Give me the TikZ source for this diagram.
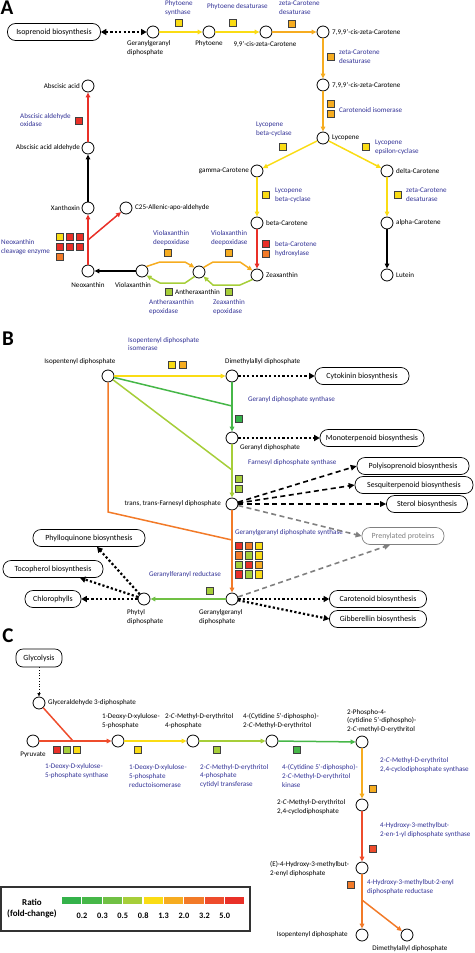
\documentclass[tikz,border=0pt]{standalone}
\usepackage{fontspec}
\setmainfont{Carlito}
\usetikzlibrary{arrows.meta}

\definecolor{cA}{RGB}{52,178,74}
\definecolor{cB}{RGB}{70,183,72}
\definecolor{cC}{RGB}{112,192,68}
\definecolor{cD}{RGB}{166,206,57}
\definecolor{cE}{RGB}{250,220,20}
\definecolor{cF}{RGB}{246,172,32}
\definecolor{cG}{RGB}{242,122,40}
\definecolor{cH}{RGB}{238,76,44}
\definecolor{cI}{RGB}{233,48,40}
\definecolor{enzblue}{RGB}{50,50,150}

\begin{document}
\begin{tikzpicture}[x=1pt,y=-1pt,
  met/.style={circle,draw,line width=0.8pt,fill=white,minimum size=12pt,inner sep=0pt},
  txt/.style={font=\fontsize{7.1}{8.8}\selectfont,inner sep=0pt,align=left},
  enz/.style={txt,text=enzblue},
  sq/.style={draw=black!75,line width=0.6pt,fill=#1,minimum size=7.5pt,inner sep=0pt},
  pbox/.style={draw,line width=0.7pt,rounded corners=8pt,minimum height=17pt,font=\fontsize{7.9}{9}\selectfont,inner sep=0pt},
  rx/.style={line width=1.5pt,draw=#1,-{Triangle[length=5pt,width=4.5pt]}},
  rl/.style={line width=1.5pt,draw=#1},
  dotarr/.style={line width=2.2pt,dash pattern=on 2.2pt off 2.2pt,-{Triangle[length=5.5pt,width=6pt]}},
  dasharr/.style={line width=1.6pt,dash pattern=on 5pt off 3.5pt,-{Triangle[length=6pt,width=5.5pt]}},
  letter/.style={font=\fontsize{21}{21}\selectfont\bfseries,inner sep=0pt}]
\useasboundingbox (0,0) rectangle (474,953);

%%% A : carotenoids
\node[letter] (lA) at (7,8) {A};
\node[pbox,minimum width=93pt] (isop) at (54,32) {Isoprenoid biosynthesis};
\node[met] (ggpp) at (153,32) {};
\node[met] (phy) at (209,32) {};
\node[met] (zc1) at (266,32) {};
\node[met] (zc2) at (323,32) {};
\node[met] (zc3) at (323,85) {};
\node[met] (lyc) at (323,138) {};
\node[met] (gam) at (257,171) {};
\node[met] (del) at (387,171) {};
\node[met] (bet) at (257,223) {};
\node[met] (alp) at (387,223) {};
\node[met] (zea) at (257,275) {};
\node[met] (lut) at (387,275) {};
\node[met] (ant) at (199,272) {};
\node[met] (vio) at (142,271) {};
\node[met] (neo) at (88,271) {};
\node[met] (xan) at (88,208) {};
\node[met] (c25) at (126,208) {};
\node[met] (aal) at (88,148) {};
\node[met] (aba) at (88,86) {};
\coordinate (nb) at (88,240);

\node[txt,anchor=west] (tggpp) at (127,48.5) {Geranylgeranyl\\diphosphate};
\node[txt] (tphy) at (209,44) {Phytoene};
\node[txt] (tzc1) at (265,44) {9,9'-cis-zeta-Carotene};
\node[txt,anchor=west] (tzc2) at (332,32) {7,9,9'-cis-zeta-Carotene};
\node[txt,anchor=west] (tzc3) at (332,85) {7,9,9'-cis-zeta-Carotene};
\node[txt,anchor=west] (tlyc) at (332,138) {Lycopene};
\node[txt,anchor=east] (tgam) at (249,171) {gamma-Carotene};
\node[txt,anchor=west] (tdel) at (396,171) {delta-Carotene};
\node[txt,anchor=west] (tbet) at (266,223) {beta-Carotene};
\node[txt,anchor=west] (talp) at (396,223) {alpha-Carotene};
\node[txt,anchor=west] (tzea) at (266,275) {Zeaxanthin};
\node[txt,anchor=west] (tlut) at (396,275) {Lutein};
\node[txt,anchor=west] (tant) at (175,292) {Antheraxanthin};
\node[txt] (tvio) at (133,285) {Violaxanthin};
\node[txt] (tneo) at (88,285) {Neoxanthin};
\node[txt,anchor=east] (txan) at (80,208) {Xanthoxin};
\node[txt,anchor=west] (tc25) at (135,208) {C25-Allenic-apo-aldehyde};
\node[txt,anchor=east] (taal) at (80,148) {Abscisic acid aldehyde};
\node[txt,anchor=east] (taba) at (80,86) {Abscisic acid};

\node[enz,anchor=west] (e1) at (165,8) {Phytoene\\synthase};
\node[enz,anchor=west] (e2) at (207,7) {Phytoene desaturase};
\node[enz,anchor=west] (e3) at (279,8) {zeta-Carotene\\desaturase};
\node[enz,anchor=west] (e4) at (339,57) {zeta-Carotene\\desaturase};
\node[enz,anchor=west] (e5) at (339,110) {Carotenoid isomerase};
\node[enz,anchor=west] (e6) at (256,129) {Lycopene\\beta-cyclase};
\node[enz,anchor=west] (e7) at (375,147) {Lycopene\\epsilon-cyclase};
\node[enz,anchor=west] (e8) at (275,195) {Lycopene\\beta-cyclase};
\node[enz,anchor=west] (e9) at (406,195) {zeta-Carotene\\desaturase};
\node[enz,anchor=west] (e10) at (275,249) {beta-Carotene\\hydroxylase};
\node[enz,anchor=west] (e11) at (153,238) {Violaxanthin\\deepoxidase};
\node[enz,anchor=west] (e12) at (211,238) {Violaxanthin\\deepoxidase};
\node[enz,anchor=west] (e13) at (149,307) {Antheraxanthin\\epoxidase};
\node[enz,anchor=west] (e14) at (213,307) {Zeaxanthin\\epoxidase};
\node[enz,anchor=west] (e15) at (20,120) {Abscisic aldehyde\\oxidase};
\node[enz,anchor=west] (e16) at (1,247) {Neoxanthin\\cleavage enzyme};

\node[sq=cE] (sa1) at (179,23) {};
\node[sq=cE] (sa2) at (233,23) {};
\node[sq=cF] (sa3) at (292,24) {};
\node[sq=cF] (sa4) at (331,57) {};
\node[sq=cF] (sa5) at (331,104) {};
\node[sq=cF] (sa6) at (331,114) {};
\node[sq=cE] (sa7) at (283,147) {};
\node[sq=cE] (sa8) at (366,147) {};
\node[sq=cE] (sa9) at (266,195) {};
\node[sq=cE] (sa10) at (398,195) {};
\node[sq=cI] (sa11) at (266,244) {};
\node[sq=cG] (sa12) at (266,254) {};
\node[sq=cF] (sa13) at (168,253) {};
\node[sq=cF] (sa14) at (229,253) {};
\node[sq=cD] (sa15) at (169,292) {};
\node[sq=cD] (sa16) at (229,292) {};
\node[sq=cI] (sa17) at (79,121) {};
\node[sq=cE] (sn1) at (60,237) {};
\node[sq=cI] (sn2) at (70,237) {};
\node[sq=cI] (sn3) at (80,237) {};
\node[sq=cI] (sn4) at (60,247) {};
\node[sq=cI] (sn5) at (70,247) {};
\node[sq=cI] (sn6) at (80,247) {};
\node[sq=cG] (sn7) at (60,257) {};

\draw[dotarr,{Triangle[length=5.5pt,width=6pt]}-{Triangle[length=5.5pt,width=6pt]}] (isop) -- (ggpp);
\draw[rx=cE] (ggpp) -- (phy);
\draw[rx=cE] (phy) -- (zc1);
\draw[rx=cF] (zc1) -- (zc2);
\draw[rx=cF] (zc2) -- (zc3);
\draw[rx=cF] (zc3) -- (lyc);
\draw[rx=cE] (lyc) -- (gam);
\draw[rx=cE] (lyc) -- (del);
\draw[rx=cE] (gam) -- (bet);
\draw[rx=cE] (del) -- (alp);
\draw[rx=cI] (bet) -- (zea);
\draw[rx=black] (alp) -- (lut);
% xanthophyll cycle
\draw[rx=cF] (vio.north east) -- (160,262) -- (185,262) -- (ant.north west);
\draw[rx=cF] (ant.north east) -- (213,262) -- (240,262) -- (zea.north west);
\draw[rx=cD] (zea.south west) -- (240,285) -- (213,285) -- (ant.south east);
\draw[rx=cD] (ant.south west) -- (185,283) -- (160,283) -- (vio.south east);
\draw[rx=black] (vio) -- (neo);
\draw[rx=cI] (neo) -- (xan);
\draw[rx=cI] (nb) -- (c25);
\draw[rx=black] (xan) -- (aal);
\draw[rx=cI] (aal) -- (aba);

%%% B : terpenoid backbone
\node[letter] (lB) at (8,339) {B};
\node[met] (ipp) at (108,376) {};
\node[met] (dma) at (232,376) {};
\node[met] (gpp) at (232,438) {};
\node[met] (fpp) at (232,504) {};
\node[met] (gg) at (232,599) {};
\node[met] (phyt) at (144,599) {};
\coordinate (j1) at (232,406);
\coordinate (j2) at (232,470);
\coordinate (j3) at (108,512);
\coordinate (j4) at (232,540);

\node[pbox,minimum width=94pt] (cyto) at (362,376) {Cytokinin biosynthesis};
\node[pbox,minimum width=104pt] (mono) at (372,438) {Monoterpenoid biosynthesis};
\node[pbox,minimum width=112pt] (poly) at (413,466) {Polyisoprenoid biosynthesis};
\node[pbox,minimum width=118pt] (sesq) at (414,485) {Sesquiterpenoid biosynthesis};
\node[pbox,minimum width=81pt] (ster) at (427,504) {Sterol biosynthesis};
\node[pbox,minimum width=82pt,draw=gray,text=gray] (pren) at (403,536) {Prenylated proteins};
\node[pbox,minimum width=112pt] (phyl) at (89,538) {Phylloquinone biosynthesis};
\node[pbox,minimum width=100pt] (toco) at (53,569) {Tocopherol biosynthesis};
\node[pbox,minimum width=56pt] (chlo) at (53,599) {Chlorophylls};
\node[pbox,minimum width=97pt] (caro) at (378,599) {Carotenoid biosynthesis};
\node[pbox,minimum width=97pt] (gibb) at (378,619) {Gibberellin biosynthesis};

\node[txt] (tipp) at (80,362) {Isopentenyl diphosphate};
\node[txt,anchor=west] (tdma) at (225,362) {Dimethylallyl diphosphate};
\node[txt,anchor=west] (tgpp) at (240,448) {Geranyl diphosphate};
\node[txt,anchor=east] (tfpp) at (221,504) {trans, trans-Farnesyl diphosphate};
\node[txt,anchor=west] (tgg) at (199,617) {Geranylgeranyl\\diphosphate};
\node[txt,anchor=west] (tphyt) at (127,617) {Phytyl\\diphosphate};

\node[enz,anchor=west] (f1) at (128,344) {Isopentenyl diphosphate\\isomerase};
\node[enz,anchor=west] (f2) at (248,400) {Geranyl diphosphate synthase};
\node[enz,anchor=west] (f3) at (248,463) {Farnesyl diphosphate synthase};
\node[enz,anchor=west] (f4) at (235,533) {Geranylgeranyl diphosphate synthase};
\node[enz] (f5) at (185,575) {Geranylferanyl reductase};

\node[sq=cE] (sb1) at (172,365) {};
\node[sq=cF] (sb2) at (183,365) {};
\node[sq=cA] (sb3) at (239,419) {};
\node[sq=cD] (sb4) at (239,479) {};
\node[sq=cD] (sb5) at (239,489) {};
\node[sq=cD] (sb6) at (210,591) {};
\foreach \c [count=\i from 0] in {cI,cG,cE,cG,cD,cE,cD,cI,cF,cI,cD,cE}
  \node[sq=\c] (gs\i) at ({239+10*mod(\i,3)},{546+9.5*div(\i,3)}) {};

\draw[rx=cE] (ipp) -- (dma);
\draw[dotarr] (dma) -- (cyto);
\draw[rx=cB] (dma) -- (gpp);
\draw[rl=cB] (ipp) -- (j1);
\draw[dotarr] (gpp) -- (mono);
\draw[rx=cD] (gpp) -- (fpp);
\draw[rl=cD] (ipp) -- (j2);
\draw[dasharr] (fpp) -- (poly.west);
\draw[dasharr] (fpp) -- (sesq.west);
\draw[dasharr] (fpp) -- (ster.west);
\draw[dasharr,gray] (fpp) -- (pren.west);
\draw[rx=cG] (fpp) -- (gg);
\draw[rl=cG] (ipp) -- (j3) -- (j4);
\draw[rx=cC] (gg) -- (phyt);
\draw[dotarr] (phyt) -- (chlo);
\draw[dotarr] (phyt) -- ([xshift=27pt]toco.south);
\draw[dotarr] (phyt) -- ([xshift=8pt]phyl.south);
\draw[dotarr] (gg) -- (caro.west);
\draw[dotarr] (gg) -- (gibb.west);
\draw[dasharr,gray] (gg) -- ([xshift=-13pt]pren.south);

%%% C : MEP pathway
\node[letter] (lC) at (8,636) {C};
\node[pbox,minimum width=46pt,minimum height=18pt,rounded corners=7pt] (glyc) at (39,658) {Glycolysis};
\node[met] (g3p) at (39,703) {};
\node[met] (pyr) at (33,741) {};
\node[met] (dxp) at (118,741) {};
\node[met] (mep) at (193,741) {};
\node[met] (cme) at (272,741) {};
\node[met] (cmep) at (362,742) {};
\node[met] (mec) at (362,805) {};
\node[met] (hmb) at (362,868) {};
\node[met] (ipp2) at (362,935) {};
\node[met] (dma2) at (407,935) {};
\coordinate (jp) at (73,741);
\coordinate (jb) at (362,900);

\node[txt,anchor=west] (tg3p) at (48,703) {Glyceraldehyde 3-diphosphate};
\node[txt] (tpyr) at (33,755) {Pyruvate};
\node[txt,anchor=west] (tdxp) at (102,721) {1-Deoxy-D-xylulose-\\5-phosphate};
\node[txt,anchor=west] (tmep) at (165,721) {2-\textit{C}-Methyl-D-erythritol\\4-phosphate};
\node[txt,anchor=west] (tcme) at (243,721) {4-(Cytidine 5'-diphospho)-\\2-\textit{C}-Methyl-D-erythritol};
\node[txt,anchor=west] (tcmep) at (347,721) {2-Phospho-4-\\(cytidine 5'-diphospho)-\\2-\textit{C}-methyl-D-erythritol};
\node[txt,anchor=west] (tmec) at (277,807) {2-\textit{C}-Methyl-D-erythritol\\2,4-cyclodiphosphate};
\node[txt,anchor=west] (thmb) at (270,869) {(E)-4-Hydroxy-3-methylbut-\\2-enyl diphosphate};
\node[txt,anchor=east] (tipp2) at (348,935) {Isopentenyl diphosphate};
\node[txt] (tdma2) at (410,949) {Dimethylallyl diphosphate};

\node[enz,anchor=west] (g1) at (45,771) {1-Deoxy-D-xylulose-\\5-phosphate synthase};
\node[enz,anchor=west] (g2) at (129,776) {1-Deoxy-D-xylulose-\\5-phosphate\\reductoisomerase};
\node[enz,anchor=west] (g3) at (200,776) {2-\textit{C}-Methyl-D-erythritol\\4-phosphate\\cytidyl transferase};
\node[enz,anchor=west] (g4) at (282,776) {4-(Cytidine 5'-diphospho)-\\2-\textit{C}-Methyl-D-erythritol\\kinase};
\node[enz,anchor=west] (g5) at (380,765) {2-\textit{C}-Methyl-D-erythritol\\2,4-cyclodiphosphate synthase};
\node[enz,anchor=west] (g6) at (380,830) {4-Hydroxy-3-methylbut-\\2-en-1-yl diphosphate synthase};
\node[enz,anchor=west] (g7) at (367,887) {4-Hydroxy-3-methylbut-2-enyl\\diphosphate reductase};

\node[sq=cI] (sc1) at (57,750) {};
\node[sq=cD] (sc2) at (67,750) {};
\node[sq=cE] (sc3) at (77,750) {};
\node[sq=cE] (sc4) at (138,750) {};
\node[sq=cD] (sc5) at (217,750) {};
\node[sq=cB] (sc6) at (297,750) {};
\node[sq=cF] (sc7) at (373,789) {};
\node[sq=cH] (sc8) at (373,849) {};
\node[sq=cG] (sc9) at (351,885) {};

\draw[line width=0.7pt,dotted,-{Triangle[length=3.5pt,width=3pt]}] (glyc) -- (g3p);
\draw[rl=cH] (g3p) -- (jp);
\draw[rl=cH] (pyr) -- (jp);
\draw[rx=cH] (jp) -- (dxp);
\draw[rx=cE] (dxp) -- (mep);
\draw[rx=cD] (mep) -- (cme);
\draw[rx=cB] (cme) -- (cmep);
\draw[rx=cF] (cmep) -- (mec);
\draw[rx=cH] (mec) -- (hmb);
\draw[rx=cG] (hmb) -- (ipp2);
\draw[rx=cG] (jb) -- (dma2);

% legend
\node[draw=black!80,line width=1.1pt,minimum width=249pt,minimum height=44pt,inner sep=0pt] (leg) at (125.5,909) {};
\node[font=\fontsize{9}{11}\selectfont\bfseries,align=center,inner sep=0pt] (legt) at (32,909) {Ratio\\(fold-change)};
\foreach \c [count=\i from 0] in {cA,cB,cC,cD,cE,cF,cG,cH,cI}
  \fill[\c] ({62+\i*20.4},897) rectangle ++(19.2,7);
\foreach \v [count=\i] in {0.2,0.3,0.5,0.8,1.3,2.0,3.2,5.0}
  \node[font=\fontsize{8.3}{9}\selectfont\bfseries,inner sep=0pt] (lv\i) at ({61.6+\i*20.4},916) {\v};
\end{tikzpicture}
\end{document}
